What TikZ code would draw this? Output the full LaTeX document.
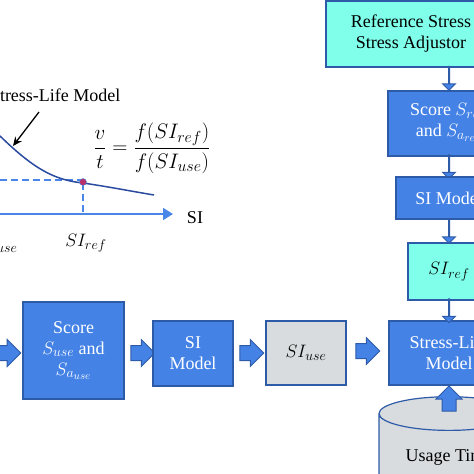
\RequirePackage{fix-cm}
\documentclass[tikz,border=0pt]{standalone}
\usepackage{amsmath}
\usepackage{fontspec}
\setmainfont{Liberation Serif}
\usetikzlibrary{shapes.arrows,shapes.geometric,arrows.meta}
\DeclareMathSizes{18}{18}{14}{11}
\DeclareMathSizes{21}{21}{16}{12}

\definecolor{flowblue}{HTML}{4482E6}
\definecolor{flowedge}{HTML}{2E5BA8}
\definecolor{flowcyan}{HTML}{80FFEA}
\definecolor{flowgray}{HTML}{D9DCDF}
\definecolor{curveblue}{HTML}{2B4BA0}
\definecolor{axisblue}{HTML}{4A86E8}
\definecolor{dotred}{HTML}{B8306A}

\tikzset{
  box/.style={rectangle, draw=flowedge, line width=1.2pt, align=center, inner sep=2pt, font=\fontsize{18}{21}\selectfont},
  bluebox/.style={box, fill=flowblue, text=white},
  cyanbox/.style={box, fill=flowcyan, text=black},
  graybox/.style={box, fill=flowgray, text=black},
  flowright/.style={single arrow, draw=flowedge, fill=flowblue, line width=1pt, inner xsep=0pt, inner ysep=7pt, minimum height=24pt, single arrow head extend=6pt},
  flowdown/.style={flowright, shape border rotate=270},
  txt/.style={font=\fontsize{18}{21}\selectfont}
}

\begin{document}
\begin{tikzpicture}[x=1pt, y=-1pt]

  \useasboundingbox (0,0) rectangle (474,474);

  % Chart
  \draw[axisblue, line width=1.8pt, -{Triangle[length=10pt,width=12pt]}] (0,214) -- (173,214);
  \node[txt] (silabel) at (195,218) {SI};
  \draw[axisblue, line width=1.5pt, dash pattern=on 7pt off 4pt] (0,180) -- (83,180);
  \draw[axisblue, line width=1.5pt, dash pattern=on 7pt off 4pt] (83,183) -- (83,214);
  \draw[curveblue, line width=1.5pt] (0,136) .. controls (35,170) and (55,180) .. (83,183)
    .. controls (110,187) and (130,191) .. (154,195);
  \node[circle, fill=dotred, draw=axisblue, inner sep=0pt, minimum size=7pt] (refpoint) at (83,182) {};
  \node[txt, anchor=east] (modellabel) at (124,95) {Stress-Life Model};
  \coordinate (pointerstart) at (39,112);
  \coordinate (curvehit) at (13,146);
  \draw[-{Stealth[length=9pt,width=8pt]}, line width=1.3pt] (pointerstart) -- (curvehit);
  \node[font=\fontsize{21}{25}\selectfont] (ratio) at (152,148) {$\dfrac{v}{t} = \dfrac{f(SI_{ref})}{f(SI_{use})}$};
  \node[txt] (refmark) at (86,243) {$SI_{ref}$};
  \node[txt, anchor=east] (usemark) at (21,245) {$SI_{use}$};

  % Bottom row
  \node[flowright] (inarrow) at (5,353) {};
  \node[bluebox, minimum width=101pt, minimum height=97pt] (scoreuse) at (73.5,350.5) {Score\\$S_{use}$ and\\$S_{a_{use}}$};
  \node[flowright] (a2) at (139,353) {};
  \node[bluebox, minimum width=80pt, minimum height=65pt] (simleft) at (193,353.5) {SI\\Model};
  \node[flowright] (a3) at (248,353) {};
  \node[graybox, minimum width=80pt, minimum height=64pt] (siuse) at (306,353) {$SI_{use}$};
  \node[flowright] (a4) at (364,351) {};
  \node[bluebox, minimum width=120pt, minimum height=64pt] (stresslife) at (449,353) {Stress-Life\\Model};

  % Right column
  \node[cyanbox, minimum width=170pt, minimum height=66pt] (refstress) at (411,34) {Reference Stress\\Stress Adjustor};
  \node[flowdown] (d1) at (449,78) {};
  \node[bluebox, minimum width=122pt, minimum height=65pt] (scoreref) at (449,123.5) {Score $S_{ref}$\\and $S_{a_{ref}}$};
  \node[flowdown] (d2) at (449,166.5) {};
  \node[bluebox, minimum width=106pt, minimum height=42pt] (simright) at (449,198) {SI Model};
  \node[flowdown] (d3) at (449,231) {};
  \node[cyanbox, minimum width=82pt, minimum height=57pt] (siref) at (449,271.5) {$SI_{ref}$};
  \node[flowdown] (d4) at (449,310.5) {};
  \node[cylinder, shape border rotate=90, draw=flowedge, fill=flowgray, line width=1.2pt, txt,
        minimum width=140pt, minimum height=98pt, aspect=0.36] (usage) at (449,457) {Usage Time};
  % up arrow from the cylinder
  \draw[draw=flowedge, fill=flowblue, line width=1pt] (449,386) -- (462,399) -- (456,399) -- (456,411)
    -- (442,411) -- (442,399) -- (436,399) -- cycle;

\end{tikzpicture}
\end{document}
